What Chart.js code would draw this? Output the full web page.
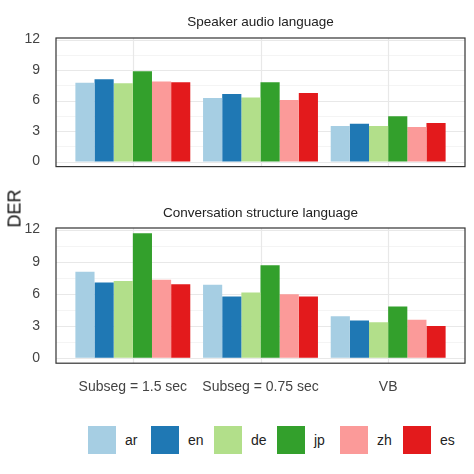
<!DOCTYPE html>
<html><head><meta charset="utf-8">
<script src="https://cdn.jsdelivr.net/npm/chart.js@4/dist/chart.umd.min.js"></script>
<style>
body{margin:0;background:#fff;font-family:"Liberation Sans",Arial,sans-serif;}
#wrap{position:relative;width:474px;height:474px;}
canvas{position:absolute;left:0;}
#der{position:absolute;left:-4px;top:198px;transform:rotate(-90deg);font-size:18px;color:#111;}
.ttl{position:absolute;left:56px;width:409px;text-align:center;font-size:13.5px;color:#222;}
#leg{position:absolute;top:426px;left:88px;display:flex;}
.it{display:flex;align-items:center;width:63px;font-size:14px;color:#222;}
.sw{width:28px;height:28px;margin-right:9px;}
</style></head><body>
<div id="wrap">
<canvas id="c1"></canvas>
<canvas id="c2"></canvas>
<div class="ttl" style="top:14px">Speaker audio language</div>
<div class="ttl" style="top:205px">Conversation structure language</div>
<div id="der">DER</div>
<div id="leg"></div>
</div>
<script>
const categories=["Subseg = 1.5 sec","Subseg = 0.75 sec","VB"];
const languages=["ar","en","de","jp","zh","es"];
const colors=["#a6cee3","#1f78b4","#b2df8a","#33a02c","#fb9a99","#e31a1c"];
const speakerAudio=[
 [7.75,6.25,3.5],[8.1,6.65,3.72],[7.7,6.3,3.5],[8.88,7.8,4.45],[7.88,6.05,3.4],[7.8,6.75,3.78]];
const convStructure=[
 [8.05,6.85,3.9],[7.05,5.75,3.5],[7.2,6.12,3.34],[11.65,8.67,4.8],[7.3,5.95,3.57],[6.88,5.75,2.97]];
const yTicks=[0,3,6,9,12];
const EXT=13;

const panelPlug={id:'pp',
 beforeDatasetsDraw(c){const a=c.chartArea,x=c.ctx,y=c.scales.y,xs=c.scales.x;x.save();
  for(let v=0;v<=12;v+=1.5){const p=Math.round(y.getPixelForValue(v))+0.5;
   x.strokeStyle=(v%3===0)?'#e8e8e8':'#f4f4f4';x.lineWidth=v%3===0?1.2:1;
   x.beginPath();x.moveTo(a.left-EXT,p);x.lineTo(a.right+EXT,p);x.stroke();}
  x.strokeStyle='#e8e8e8';x.lineWidth=1.2;
  categories.forEach((_,i)=>{const p=Math.round(xs.getPixelForValue(i))+0.5;x.beginPath();x.moveTo(p,a.top);x.lineTo(p,a.bottom);x.stroke();});
  x.restore();},
 afterDraw(c){const a=c.chartArea,x=c.ctx;x.save();x.strokeStyle='#333';x.lineWidth=1.2;
  x.strokeRect(a.left-EXT,a.top,a.right-a.left+2*EXT,a.bottom-a.top);x.restore();}};

function make(id,top,h,padTop,vals,showX){
 const cv=document.getElementById(id);cv.style.top=top+'px';
 cv.width=474;cv.height=h;cv.style.width='474px';cv.style.height=h+'px';
 new Chart(cv,{type:'bar',
  data:{labels:categories,datasets:languages.map((l,i)=>({label:l,data:vals[i],base:0,backgroundColor:colors[i],barPercentage:1,categoryPercentage:0.9}))},
  options:{responsive:false,animation:false,devicePixelRatio:1,
   layout:{padding:{top:padTop,right:9+EXT,bottom:showX?6:8}},
   plugins:{legend:{display:false},tooltip:{enabled:false},title:{display:false}},
   scales:{
    x:{offset:true,grid:{display:false},border:{display:false},
       ticks:{display:showX,color:'#444',font:{size:14,family:'Liberation Sans'},padding:8}},
    y:{min:-0.5,max:12.15,afterFit:s=>{s.width=56+EXT;},border:{display:false},
       afterBuildTicks:s=>{s.ticks=yTicks.map(v=>({value:v}));},
       grid:{display:false},
       ticks:{padding:8+EXT,color:'#444',font:{size:14,family:'Liberation Sans'}}}
   }},
  plugins:[panelPlug]});
}
make('c1',0,196,38,speakerAudio,false);
make('c2',198,212,30,convStructure,true);

const leg=document.getElementById('leg');
languages.forEach((l,i)=>{const d=document.createElement('div');d.className='it';
 d.innerHTML='<div class="sw" style="background:'+colors[i]+'"></div><span>'+l+'</span>';leg.appendChild(d);});
</script>
</body></html>
